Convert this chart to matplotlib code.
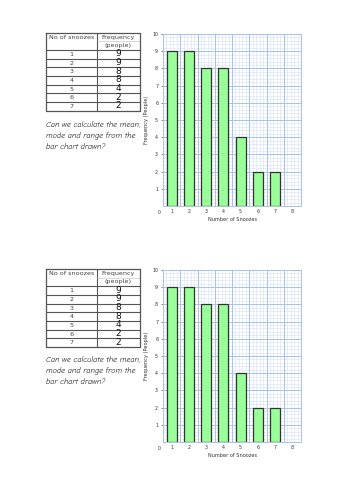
import numpy as np
import matplotlib.pyplot as plt

# data
snoozes = [1, 2, 3, 4, 5, 6, 7]
frequency = [9, 9, 8, 8, 4, 2, 2]
question = "Can we calculate the mean,\nmode and range from the\nbar chart drawn?"

W, H = 354, 500
fig = plt.figure(figsize=(W / 100, H / 100), dpi=100)
fig.patch.set_facecolor('white')

hand_font = ['Comic Neue', 'Liberation Sans', 'DejaVu Sans']


def px_axes(x0, y0, x1, y1):
    return fig.add_axes([x0 / W, 1 - y1 / H, (x1 - x0) / W, (y1 - y0) / H])


def draw_table(top):
    ax = px_axes(46, top, 140, top + 78)
    ax.set_xlim(0, 1)
    ax.set_ylim(9, 0)
    ax.axis('off')
    split = 0.54
    lc = '#555555'
    ax.plot([0, 1, 1, 0, 0], [0, 0, 9, 9, 0], color=lc, lw=0.9, clip_on=False)
    ax.plot([split, split], [0, 9], color=lc, lw=0.8)
    for r in range(2, 9):
        ax.plot([0, 1], [r, r], color=lc, lw=0.8)
    ax.plot([split, 1], [1, 1], color='#bbbbbb', lw=0.4)
    ax.text(split / 2, 0.55, "No of snoozes", ha='center', va='center',
            fontsize=4.6, color='#444444')
    ax.text((1 + split) / 2, 0.55, "Frequency", ha='center', va='center',
            fontsize=4.6, color='#444444')
    ax.text((1 + split) / 2, 1.5, "(people)", ha='center', va='center',
            fontsize=4.6, color='#444444')
    for i, (s, f) in enumerate(zip(snoozes, frequency)):
        ax.text(split / 2, 2.5 + i, str(s), ha='center', va='center',
                fontsize=4.6, color='#444444')
        ax.text((1 + split) / 2, 2.45 + i, str(f), ha='center', va='center',
                fontsize=6.5, color='#111111')


def draw_chart(top):
    ax = px_axes(163, top, 301, top + 172)
    ax.set_xlim(0.5, 8.5)
    ax.set_ylim(0, 10)
    # graph paper
    for v in np.arange(0.5, 8.51, 0.2):
        ax.axvline(v, color='#d6e2f5', lw=0.4, zorder=0)
    for v in np.arange(0, 10.01, 0.2):
        ax.axhline(v, color='#d6e2f5', lw=0.4, zorder=0)
    for v in np.arange(0.5, 8.51, 1):
        ax.axvline(v, color='#a9c2ea', lw=0.7, zorder=0.5)
    for v in range(0, 11):
        ax.axhline(v, color='#a9c2ea', lw=0.7, zorder=0.5)
    ax.bar(snoozes, frequency, width=0.58, color='#99ff99',
           edgecolor='#333333', linewidth=0.9, zorder=2)
    ax.set_xticks(range(1, 9))
    ax.set_yticks(range(1, 11))
    ax.tick_params(axis='both', labelsize=3.4, length=1.5, width=0.4,
                   colors='#333333', pad=2)
    ax.tick_params(axis='x', length=0)
    ax.text(0.5 - 0.12, -0.25, "0", fontsize=3.4, color='#333333',
            ha='right', va='top')
    for s in ax.spines.values():
        s.set_color('#a9c2ea')
        s.set_linewidth(0.7)
    ax.set_ylabel("Frequency (People)", fontsize=3.6, color='#333333', labelpad=2.5)
    ax.set_xlabel("Number of Snoozes", fontsize=3.6, color='#333333', labelpad=2.5)


for top_chart, top_table, top_text in [(34, 32.7, 121), (270, 269, 356)]:
    draw_table(top_table)
    draw_chart(top_chart)
    fig.text(46 / W, 1 - top_text / H, question, ha='left', va='top',
             fontsize=5.8, fontstyle='italic', color='#222222',
             linespacing=1.5, family=hand_font)

fig.savefig('out.png', dpi=100)
